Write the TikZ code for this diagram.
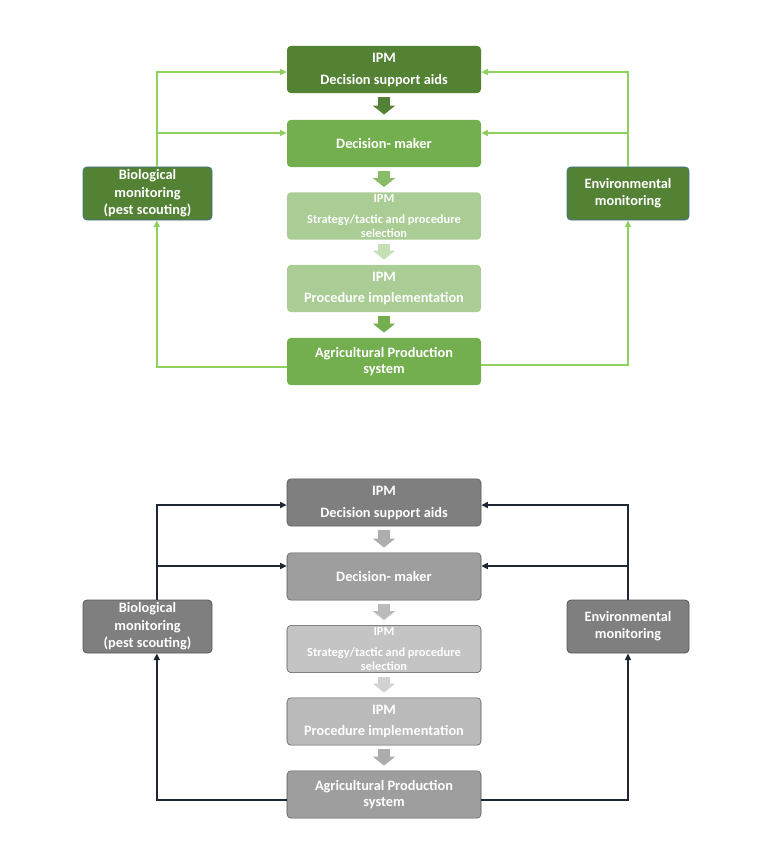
\documentclass[tikz,border=0pt]{standalone}
\usepackage{fontspec}
\setmainfont{Carlito}
\usetikzlibrary{arrows.meta}

\definecolor{gdark}{HTML}{548235}
\definecolor{gmid}{HTML}{74AF4F}
\definecolor{glight}{HTML}{A9CD94}
\definecolor{gpale}{HTML}{C6E0B6}
\definecolor{gline}{HTML}{8FD15F}
\definecolor{gedge}{HTML}{41719C}
\definecolor{kdark}{HTML}{7F7F7F}
\definecolor{kmid}{HTML}{9E9E9E}
\definecolor{klight}{HTML}{C4C4C4}
\definecolor{kpale}{HTML}{D2D2D2}
\definecolor{kline}{HTML}{1F2636}
\definecolor{kedge}{HTML}{555555}

\tikzset{
  box/.style={rectangle, rounded corners=3pt, minimum width=145.5pt, minimum height=35.5pt,
    inner sep=1pt, text=white, align=center, font=\bfseries\fontsize{10.75}{12.5}\selectfont},
  side/.style={box, minimum width=96.75pt, minimum height=39.75pt, line width=0.6pt,
    font=\bfseries\fontsize{10.75}{13}\selectfont},
  small/.style={font=\bfseries\fontsize{9.3}{9.9}\selectfont},
  blockarrow/.style={line width=9pt, -{Triangle[width=16.5pt,length=6.75pt]}},
  feed/.style={line width=1.5pt, -{Triangle[width=4.5pt,length=5pt]}},
}

\begin{document}
\begin{tikzpicture}[x=0.75pt, y=-0.75pt]
\useasboundingbox (0,0) rectangle (768,866);

% green version
\node[box, fill=gdark] (t1) at (384,69.5) {IPM\\[4pt]Decision support aids};
\node[box, fill=gmid] (t2) at (384,143.5) {Decision- maker};
\node[box, small, fill=glight] (t3) at (384,216) {IPM\\[5.8pt]Strategy/tactic and procedure\\selection};
\node[box, fill=glight] (t4) at (384,288.5) {IPM\\[3.25pt]Procedure implementation};
\node[box, fill=gmid] (t5) at (384,361.5) {Agricultural Production\\system};
\node[side, fill=gdark, draw=gedge] (bio) at (147.5,193.5) {Biological\\monitoring\\(pest scouting)};
\node[side, fill=gdark, draw=gedge, minimum width=91.5pt] (env) at (628,193.5) {Environmental\\monitoring};

\draw[blockarrow, gdark] ([yshift=-3pt]t1.south) -- ([yshift=3.75pt]t2.north);
\draw[blockarrow, gmid!85!white] ([yshift=-3pt]t2.south) -- ([yshift=3.75pt]t3.north);
\draw[blockarrow, gpale] ([yshift=-3pt]t3.south) -- ([yshift=3.75pt]t4.north);
\draw[blockarrow, gmid] ([yshift=-3pt]t4.south) -- ([yshift=3.75pt]t5.north);

\draw[feed, gline] ([xshift=7pt]bio.north) |- ([yshift=-1.9pt]t1.west);
\draw[feed, gline] ([xshift=7pt]bio.north) |- ([yshift=7.9pt]t2.west);
\draw[feed, gline] ([yshift=-3.75pt]t5.west) -| ([xshift=7pt]bio.south);
\draw[feed, gline] (env.north) |- ([yshift=-1.9pt]t1.east);
\draw[feed, gline] (env.north) |- ([yshift=7.9pt]t2.east);
\draw[feed, gline] ([yshift=-2.25pt]t5.east) -| (env.south);

% grey version
\node[box, fill=kdark, draw=kedge] (k1) at (384,502.5) {IPM\\[4pt]Decision support aids};
\node[box, fill=kmid, draw=kedge] (k2) at (384,576.5) {Decision- maker};
\node[box, small, fill=klight, draw=kedge] (k3) at (384,649) {IPM\\[5.8pt]Strategy/tactic and procedure\\selection};
\node[box, fill=klight!95!black, draw=kedge] (k4) at (384,721.5) {IPM\\[3.25pt]Procedure implementation};
\node[box, fill=kmid, draw=kedge] (k5) at (384,794.5) {Agricultural Production\\system};
\node[side, fill=kdark, draw=kedge] (kbio) at (147.5,626.5) {Biological\\monitoring\\(pest scouting)};
\node[side, fill=kdark, draw=kedge, minimum width=91.5pt] (kenv) at (628,626.5) {Environmental\\monitoring};

\draw[blockarrow, kmid!85!white] ([yshift=-3pt]k1.south) -- ([yshift=3.75pt]k2.north);
\draw[blockarrow, kmid!70!white] ([yshift=-3pt]k2.south) -- ([yshift=3.75pt]k3.north);
\draw[blockarrow, kpale] ([yshift=-3pt]k3.south) -- ([yshift=3.75pt]k4.north);
\draw[blockarrow, kmid!85!white] ([yshift=-3pt]k4.south) -- ([yshift=3.75pt]k5.north);

\draw[feed, kline] ([xshift=7pt]kbio.north) |- ([yshift=-1.9pt]k1.west);
\draw[feed, kline] ([xshift=7pt]kbio.north) |- ([yshift=7.9pt]k2.west);
\draw[feed, kline] ([yshift=-3.75pt]k5.west) -| ([xshift=7pt]kbio.south);
\draw[feed, kline] (kenv.north) |- ([yshift=-1.9pt]k1.east);
\draw[feed, kline] (kenv.north) |- ([yshift=7.9pt]k2.east);
\draw[feed, kline] ([yshift=-3.75pt]k5.east) -| (kenv.south);
\end{tikzpicture}
\end{document}
